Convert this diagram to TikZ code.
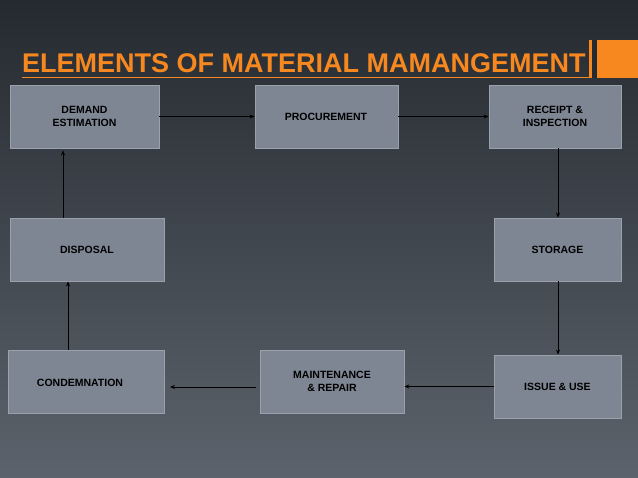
\documentclass[tikz,border=0pt]{standalone}
\usepackage{fontspec}
\setmainfont{Liberation Sans}
\usetikzlibrary{arrows.meta}
\definecolor{bgtop}{HTML}{252A30}
\definecolor{bgbot}{HTML}{5C636C}
\definecolor{boxfill}{HTML}{7E8693}
\definecolor{boxline}{HTML}{9AA1AB}
\definecolor{orng}{HTML}{F7881F}
\tikzset{
 blk/.style={draw=boxline,line width=0.8pt,fill=boxfill,font=\bfseries\fontsize{10.5}{12.5}\selectfont,align=center,inner sep=0pt},
 arr/.style={-{Stealth[length=5pt,width=4pt]},line width=0.8pt,black}
}
\begin{document}
\begin{tikzpicture}[x=1pt,y=-1pt]
\shade[top color=bgtop,bottom color=bgbot] (0,0) rectangle (638,478);
\useasboundingbox (0,0) rectangle (638,478);
% title
\node[anchor=base west,inner sep=0pt,text=orng,font=\bfseries\fontsize{27}{30}\selectfont] (title) at (22,73) {ELEMENTS OF MATERIAL MAMANGEMENT};
\draw[orng,line width=1.5pt] (22,77.5) -- (592,77.5);
\fill[orng] (597,40) rectangle (638,78);
\fill[orng] (589,40) rectangle (592,78);
\fill[bgtop] (592,40) rectangle (597,78);
% boxes
\node[blk,minimum width=149,minimum height=63] (dem) at (84.5,116.5) {DEMAND\\ESTIMATION};
\node[blk,minimum width=143,minimum height=63] (pro) at (326.5,116.5) {};
\node[font=\bfseries\fontsize{10.5}{12.5}\selectfont] at (326,117) {PROCUREMENT};
\node[blk,minimum width=132,minimum height=63] (rec) at (555,116.5) {RECEIPT \&\\INSPECTION};
\node[blk,minimum width=154,minimum height=63] (dis) at (87,249.5) {DISPOSAL};
\node[blk,minimum width=127,minimum height=63] (sto) at (557.5,249.5) {STORAGE};
\node[blk,minimum width=156,minimum height=63] (con) at (86,381.5) {};
\node[font=\bfseries\fontsize{10.5}{12.5}\selectfont] at (80,383) {CONDEMNATION};
\node[blk,minimum width=144,minimum height=63] (mai) at (332,381.5) {MAINTENANCE\\\& REPAIR};
\node[blk,minimum width=127,minimum height=63] (iss) at (557.5,386.5) {ISSUE \& USE};
% arrows
\draw[arr] (dem.east) -- (pro.west);
\draw[arr] (pro.east) -- (rec.west);
\draw[arr] (rec.south -| 558,0) -- (sto.north -| 558,0);
\draw[arr] (sto.south -| 558,0) -- (iss.north -| 558,0);
\draw[arr] (iss.west) -- (mai.east |- iss.west);
\coordinate (m1) at (256,387);
\coordinate (c1) at (170,387);
\draw[arr] (m1) -- (c1);
\draw[arr] (con.north -| 68,0) -- (dis.south -| 68,0);
\draw[arr] (dis.north -| 63,0) -- ([yshift=-2pt]dem.south -| 63,0);
\end{tikzpicture}
\end{document}
